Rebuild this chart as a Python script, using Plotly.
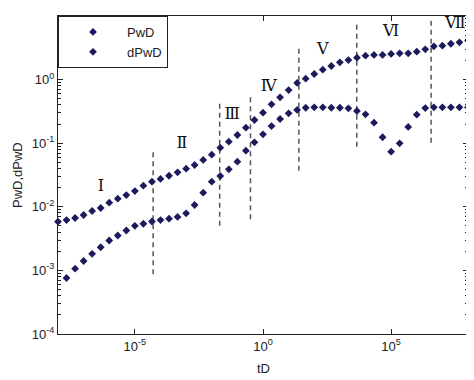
import plotly.graph_objects as go

# Dimensionless time (log-spaced samples)
tD = [1e-8, 2.15e-8, 4.64e-8, 1e-7, 2.15e-7, 4.64e-7, 1e-6, 2.15e-6, 4.64e-6,
      1e-5, 2.15e-5, 4.64e-5, 1e-4, 2.15e-4, 4.64e-4, 1e-3, 2.15e-3, 4.64e-3,
      1e-2, 2.15e-2, 4.64e-2, 1e-1, 2.15e-1, 4.64e-1, 1e0, 2.15e0, 4.64e0,
      1e1, 2.15e1, 4.64e1, 1e2, 2.15e2, 4.64e2, 1e3, 2.15e3, 4.64e3,
      1e4, 2.15e4, 4.64e4, 1e5, 2.15e5, 4.64e5, 1e6, 2.15e6, 4.64e6,
      1e7, 2.15e7, 4.64e7, 1e8]

PwD = [5.83e-3, 6.19e-3, 6.67e-3, 7.43e-3, 8.59e-3, 9.57e-3, 1.16e-2, 1.34e-2, 1.53e-2,
       1.77e-2, 2.15e-2, 2.48e-2, 2.74e-2, 3.08e-2, 3.48e-2, 3.97e-2, 4.54e-2, 5.45e-2,
       6.59e-2, 8.49e-2, 0.1057, 0.1346, 0.1754, 0.2317, 0.302, 0.409, 0.527,
       0.685, 0.885, 1.033, 1.225, 1.432, 1.637, 1.871, 2.03, 2.21,
       2.38, 2.44, 2.44, 2.53, 2.59, 2.59, 2.75, 2.99, 3.34,
       3.41, 3.66, 3.85, 4.15]

dPwD = [None, 7.60e-4, 1.064e-3, 1.406e-3, 1.824e-3, 2.31e-3, 2.95e-3, 3.54e-3, 4.24e-3,
        5.02e-3, 5.41e-3, 5.87e-3, 6.19e-3, 6.50e-3, 6.92e-3, 7.91e-3, 1.067e-2, 1.667e-2,
        2.48e-2, 3.05e-2, 3.89e-2, 5.12e-2, 7.62e-2, 0.1033, 0.138, 0.186, 0.240,
        0.295, 0.333, 0.361, 0.367, 0.367, 0.361, 0.361, 0.354, 0.321,
        0.284, 0.210, 0.124, 0.0735, 0.0995, 0.180, 0.281, 0.357, 0.367,
        0.367, 0.367, 0.367, 0.367]

# Axis ticks
x_tickvals = [1e-5, 1e0, 1e5]
x_ticktext = ["10<sup>-5</sup>", "10<sup>0</sup>", "10<sup>5</sup>"]
y_tickvals = [1e-4, 1e-3, 1e-2, 1e-1, 1e0, 1e1]
y_ticktext = ["10<sup>-4</sup>", "10<sup>-3</sup>", "10<sup>-2</sup>",
              "10<sup>-1</sup>", "10<sup>0</sup>", "10<sup>1</sup>"]

# Flow-regime boundaries (dashed lines) and their vertical extents
boundary_tD = [5.16e-5, 2.04e-2, 0.324, 25.1, 4570, 3.63e6]
boundary_bottom = [8.7e-4, 5.05e-3, 6.35e-3, 3.7e-2, 8.8e-2, 0.102]
boundary_top = [7.5e-2, 0.445, 0.552, 3.18, 7.76, 8.87]

# Regime labels
regime_labels = ["Ⅰ", "Ⅱ", "Ⅲ", "Ⅳ", "Ⅴ", "Ⅵ", "Ⅶ"]
regime_tD = [4.7e-7, 6.9e-4, 6.3e-2, 1.66, 214, 1.0e5, 3.2e7]
regime_y = [2.07e-2, 9.7e-2, 0.277, 0.773, 2.92, 5.66, 7.48]

navy = "#1b1a5c"
ink = "#222222"
sans = "Liberation Sans, Arial, sans-serif"
fig = go.Figure()

for bx, b0, b1 in zip(boundary_tD, boundary_bottom, boundary_top):
    fig.add_trace(go.Scatter(x=[bx, bx], y=[b0, b1], mode="lines",
                             line=dict(color="#555555", width=1.5, dash="5px,4px"),
                             showlegend=False, hoverinfo="skip"))

fig.add_trace(go.Scatter(x=tD, y=PwD, mode="markers", name="PwD",
                         marker=dict(symbol="diamond", size=6, color=navy),
                         cliponaxis=False))
fig.add_trace(go.Scatter(x=tD, y=dPwD, mode="markers", name="dPwD",
                         marker=dict(symbol="diamond", size=6, color=navy),
                         cliponaxis=False))

fig.add_trace(go.Scatter(x=regime_tD, y=regime_y, mode="text", text=regime_labels,
                         textfont=dict(family="DejaVu Serif, Liberation Serif, serif",
                                       size=16, color="#111111"),
                         showlegend=False, hoverinfo="skip", cliponaxis=False))

axis_common = dict(
    type="log", showgrid=False, zeroline=False, automargin=False,
    showline=True, linecolor=ink, linewidth=1, mirror="ticks",
    ticks="inside", ticklen=5, tickcolor=ink,
    tickmode="array",
    tickfont=dict(family=sans, size=13, color=ink),
)

fig.update_xaxes(**axis_common, range=[-8, 8],
                 tickvals=x_tickvals, ticktext=x_ticktext)
fig.update_yaxes(**axis_common, range=[-4, 1],
                 tickvals=y_tickvals, ticktext=y_ticktext,
                 minor=dict(ticks="inside", ticklen=3, dtick="D1", tickcolor=ink))

# Axis titles
fig.add_annotation(text="tD", xref="paper", yref="paper", x=0.5, y=-0.107,
                   xanchor="center", yanchor="middle", showarrow=False,
                   font=dict(family=sans, size=13, color=ink))
fig.add_annotation(text="PwD,dPwD", xref="paper", yref="paper", x=-0.1, y=0.5,
                   xanchor="center", yanchor="middle", showarrow=False, textangle=-90,
                   borderpad=0,
                   font=dict(family=sans, size=13, color=ink))

# The page body adds an 8px offset, so the figure is 8px smaller than the window
fig.update_layout(
    width=466, height=372,
    margin=dict(l=50, r=6, t=8, b=46),
    paper_bgcolor="white", plot_bgcolor="white",
    showlegend=True,
    legend=dict(x=0, y=1, xanchor="left", yanchor="top",
                bgcolor="white", bordercolor=ink, borderwidth=1,
                itemwidth=58,
                font=dict(family=sans, size=13, color=ink)),
)

fig.write_html("out.html")
